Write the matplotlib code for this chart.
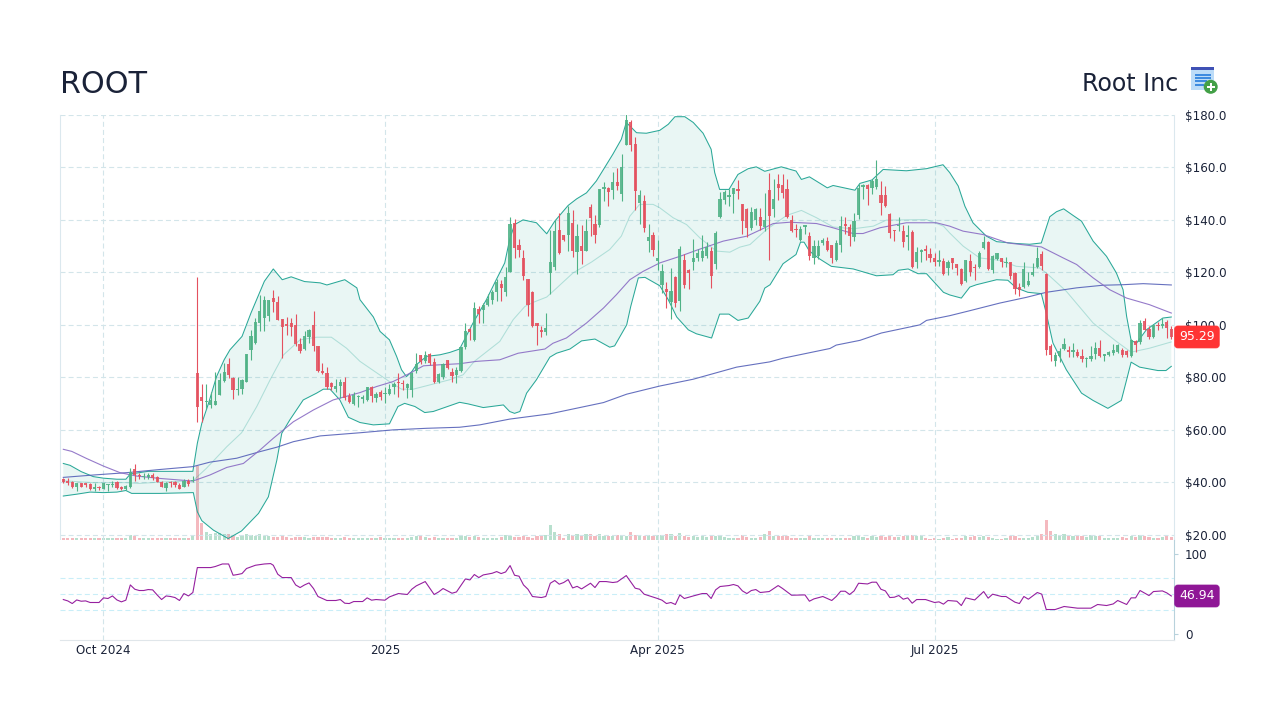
import matplotlib
matplotlib.use('Agg')
import matplotlib.pyplot as plt
from matplotlib.patches import Rectangle, Circle

# daily candles
opens = [
    41, 40.5, 39.9, 38, 39.5, 39.5, 39.3, 37.3, 38, 37.4,
    39, 39, 40, 38, 37.4, 38, 45, 42.8, 42.1, 41.8,
    42.7, 42, 40.2, 37.8, 40, 40, 39, 38.2, 40.5, 40.3,
    81.5, 72.3, 70.5, 69.4, 69.5, 73, 78.7, 85.1, 79.6, 75.1,
    75.4, 78.3, 90.4, 92.9, 100.6, 102.5, 103.1, 110.1, 108.7, 102.1,
    100.3, 100.6, 99.9, 92.6, 90.7, 95.1, 99.9, 91.9, 82.4, 81.5,
    77.7, 75.6, 76.7, 78.2, 72.9, 69.8, 72.3, 71.8, 71.1, 76.4,
    72.2, 74.4, 73.5, 73.6, 76.4, 78.2, 77.9, 75.8, 75.1, 82.5,
    88.4, 86, 88.9, 85.7, 78.3, 80, 86.5, 81.8, 80.9, 82.5,
    91.4, 98.3, 94, 105.9, 105.4, 107.6, 109.3, 112.3, 115.6, 112.3,
    119.9, 138.8, 130.5, 125.4, 117.4, 112.3, 100.6, 97.8, 97, 119.7,
    122, 136.2, 134.3, 134.3, 138.8, 127.6, 130.1, 128, 144.9, 138.5,
    137.8, 151.5, 151.9, 151.2, 154.5, 149.6, 168.3, 177, 168.7, 146.2,
    147.2, 131.8, 134.2, 124.4, 115, 113.6, 108.5, 118, 108.9, 124.8,
    120.9, 123.8, 125.4, 125.4, 126, 128.2, 122.9, 140.9, 147.4, 148.6,
    149.6, 151.5, 146.1, 143.9, 136.9, 140, 140.9, 137.1, 151.1, 144.1,
    153.4, 153, 151.5, 140, 136.4, 132.2, 137.2, 133.9, 125.4, 126,
    130.9, 132, 130.5, 124.8, 130.5, 138.5, 137.2, 133.4, 141.9, 152.4,
    153, 152.1, 152.5, 149.2, 149.2, 142.3, 136, 137.5, 135.8, 133.3,
    135.2, 123.8, 127.6, 128.8, 127, 125.2, 123.8, 124.4, 121.6, 125.2,
    122.9, 121.3, 116.5, 124.4, 122, 122, 129.1, 131.6, 120.9, 125,
    125.3, 123.5, 123.9, 119.8, 114.3, 114.3, 115.1, 119, 122, 126.9,
    119.4, 91.7, 86.3, 88.1, 90.7, 90.2, 89.5, 89.5, 88.1, 86.8,
    86.8, 88.8, 91.2, 88.1, 88.4, 89.1, 89.6, 90.2, 89.8, 88.1,
    93.6, 93.3, 101.2, 98.4, 95.1, 99.9, 99.3, 101.1, 98.4,
]
closes = [
    40, 39.6, 38, 39.5, 38.2, 39, 37.5, 38.2, 37.7, 39.5,
    39.2, 39.3, 37.8, 37.5, 38.6, 44, 42.6, 42.3, 42.3, 42.8,
    41.5, 40.2, 38.2, 39.8, 39.8, 38.8, 37.5, 40.3, 39.2, 40.8,
    68.5, 71, 71, 71.3, 71, 78.9, 82.1, 80.9, 75.1, 75.4,
    79, 88.9, 95.8, 101.1, 105, 109.5, 109.5, 108.5, 101.9, 98.9,
    99.6, 98.9, 92.7, 90, 95.5, 97.8, 91.7, 82.5, 81.5, 76.1,
    76.1, 76.7, 78.2, 72, 70.7, 73.2, 72.9, 72.6, 76.2, 72.9,
    73.6, 72.6, 73.6, 75.4, 77.4, 77.9, 77.4, 77.3, 81.5, 85,
    85.6, 88.5, 85.3, 78.3, 81.2, 85, 83.3, 80.5, 82.8, 91.3,
    97.7, 97.3, 106.3, 103.9, 107.6, 109.9, 112.3, 116.4, 113.9, 118.2,
    138.5, 129.1, 128.3, 118.4, 107.6, 99.6, 99.3, 97.2, 98.7, 123.9,
    135.6, 127.3, 132.1, 142.6, 128, 133.9, 128, 135.8, 140.7, 134.3,
    151.7, 152.5, 150.5, 154.5, 152.8, 160.2, 178, 168.3, 150.9, 149.2,
    136.7, 133.5, 128.6, 125.2, 120.6, 112.3, 112.9, 108.2, 128.8, 115.2,
    119.7, 125.4, 127.3, 128.2, 129.6, 118.4, 134.9, 147.7, 150.5, 149.2,
    151.9, 150.9, 139.4, 136.9, 143, 143.9, 137.7, 140, 141.3, 147.7,
    151.9, 150.2, 141.1, 135.6, 136, 136.6, 137.9, 126, 130.1, 129.9,
    132.4, 128.3, 125.2, 131.1, 137.5, 137.5, 133.7, 139.4, 151.9, 153,
    151.7, 154.7, 155.6, 146.4, 145.1, 134.9, 135.6, 138.1, 131.4, 134.3,
    121.9, 127.7, 128.3, 128, 125.4, 123.8, 124.8, 119.4, 123.9, 123.5,
    121.6, 115.6, 124.5, 119.9, 121.7, 127.1, 131.6, 121.2, 126.3, 127.1,
    123.8, 123.8, 118.7, 113.6, 113.3, 121.2, 116.6, 120, 125.4, 122.5,
    90.2, 88.3, 88.5, 90, 92.6, 89.5, 90.3, 87.9, 86.8, 87.1,
    88, 91.2, 87.9, 88.8, 89.4, 90.4, 92.2, 88.5, 88.6, 94,
    92.3, 100.8, 98, 95.1, 99.7, 99.3, 100.3, 98.7, 95.29,
]
highs = [
    41.6, 41.4, 40.5, 39.8, 39.8, 39.8, 39.8, 39.8, 38.5, 39.8,
    39.3, 40.5, 40.5, 38.5, 39, 45.2, 47, 43.5, 43.3, 43.3,
    43.3, 42.3, 40.5, 40, 40.3, 40.5, 39.8, 41, 41, 42.3,
    118, 77.3, 77.3, 74.3, 81.8, 81.5, 85.3, 87.2, 80.2, 80,
    79.2, 88.9, 98, 102.5, 111.4, 111, 109.5, 113, 111, 102.1,
    102.9, 102.5, 104.2, 94.9, 97.4, 98.3, 105.2, 91.9, 85.3, 83.8,
    78.3, 79.2, 79.2, 79.9, 73.9, 74.5, 73.2, 73.2, 76.3, 76.7,
    74.5, 74.9, 76.4, 77.4, 78.3, 81.5, 79, 77.7, 82.1, 89.1,
    88.5, 89.8, 89.1, 87.2, 81.5, 85.3, 86.6, 83.4, 84, 91.3,
    100.8, 98.7, 108.6, 107.2, 108.2, 111.8, 113.3, 117.4, 116.9, 122,
    141, 140.3, 132.7, 128.6, 117.4, 112.7, 100.6, 99.6, 104.4, 136.2,
    139.8, 142.6, 134.3, 145.1, 143.6, 138.5, 138.1, 140.4, 146, 141.6,
    151.7, 154.3, 152.5, 158.1, 159.6, 165.1, 180.3, 178, 171.6, 151.2,
    149.2, 138.3, 135.3, 132.4, 122.9, 116.1, 121.6, 118.7, 130.1, 127,
    121.2, 132.7, 128.8, 134.3, 131.4, 129.6, 135.6, 150.5, 151.1, 151.5,
    152.1, 154.9, 146.1, 144.5, 144.9, 144.4, 144.4, 150.2, 157.9, 155.3,
    157.5, 157.5, 155.3, 141.6, 138.5, 137.5, 138.1, 135.2, 132.1, 132.1,
    133, 133.4, 130.5, 132.1, 141.3, 141, 138.5, 142.6, 153.4, 153.4,
    153.4, 155.3, 162.7, 154.7, 152.8, 142.6, 136.2, 141, 138.1, 138.1,
    136, 129.6, 128.8, 130.5, 129.2, 127.3, 128.3, 125.4, 124.5, 125.4,
    123.2, 121.6, 124.8, 126.9, 123.2, 128, 133.9, 131.9, 126.6, 127.1,
    125.5, 125.8, 124, 119.9, 115.9, 123.7, 119.9, 123.5, 129.6, 128,
    119.7, 92.7, 89.4, 90.9, 94.9, 91.7, 92.9, 90.7, 90.7, 87.6,
    91.7, 93.2, 94.2, 88.8, 89.8, 92.6, 92.6, 91, 90.4, 94.5,
    94.2, 101.6, 102.5, 99.3, 99.9, 100.9, 102.4, 101.6, 99.3,
]
lows = [
    39.5, 39, 37.7, 36.7, 38, 38, 37, 36.8, 37, 37.2,
    36.7, 38.2, 37.5, 37, 37, 37.6, 40.5, 41.3, 41, 41.3,
    40.8, 40, 38, 36.7, 38, 38.2, 37.2, 38, 38.5, 40,
    63, 63, 68, 68.4, 69.4, 73, 78.3, 79.6, 71.6, 73.1,
    73.6, 78.3, 86.6, 92.7, 97.4, 97.4, 101.2, 104.7, 101.6, 87.2,
    96.1, 95.5, 91.9, 89.1, 90.2, 92.9, 89.8, 82.1, 81.2, 75.4,
    74.9, 74.5, 72, 71.3, 70, 69.4, 68.5, 70.3, 71, 70.7,
    70.4, 71.1, 70.3, 73.1, 73.6, 72.3, 74.9, 72, 72.3, 81.5,
    85, 85.3, 84.7, 77.9, 77.7, 79.2, 83, 78.3, 77.7, 82.1,
    90.7, 94.2, 93.6, 100.8, 100.6, 106.9, 108, 108.9, 108.9, 110.8,
    119.9, 125.4, 125.8, 117.1, 103.4, 99.1, 92.2, 95.2, 96.1, 111.8,
    120.9, 127, 131.8, 128, 125.8, 119.1, 122.9, 128, 133.9, 131.1,
    137.2, 147.2, 145.1, 147.7, 151.2, 147.2, 168.3, 166.1, 143.5, 138.5,
    135.2, 127.6, 126, 120.7, 112.1, 106.3, 102.1, 106.7, 105, 113.9,
    113.6, 120.7, 124.1, 124.1, 125.4, 114, 121.2, 140.7, 145.8, 145.1,
    142.6, 147.9, 134.6, 133.4, 136, 138.1, 136, 135.6, 124.8, 141.1,
    147.4, 148.3, 140.7, 135.2, 133.4, 131.8, 134.7, 124.5, 123.1, 125,
    130.5, 128, 123.5, 124.1, 127.6, 134.7, 130.1, 131.8, 140.3, 147.9,
    145.4, 149.8, 151.5, 141.6, 144.9, 133, 131.8, 135.6, 129.6, 128.6,
    121.6, 121.6, 123.8, 124.8, 123.8, 122.2, 122.2, 118.8, 118.8, 121.2,
    119, 115.1, 116.1, 118.6, 116.9, 121.6, 128.8, 120.7, 119.6, 124.5,
    122, 122, 117.4, 111.8, 111, 113.9, 114.6, 118.4, 121.6, 120.7,
    88.5, 86.3, 84.4, 85.7, 90.2, 87.6, 87.6, 87.6, 85.7, 83.7,
    86.3, 86.8, 87.6, 86, 87.9, 88.5, 89.1, 87.5, 87.5, 87.6,
    89.5, 92.7, 97.8, 94.5, 94.9, 97.8, 98.7, 94.9, 94.7,
]
# relative volume, no scale shown on the chart
volumes = [
    6, 6, 5, 5, 5, 5, 5, 5, 5, 5,
    5, 5, 5, 5, 6, 14, 12, 6, 5, 5,
    5, 5, 5, 5, 5, 5, 5, 5, 5, 12,
    220, 50, 24, 16, 20, 20, 18, 16, 12, 8,
    14, 16, 14, 12, 16, 12, 10, 8, 8, 12,
    8, 6, 7, 7, 7, 6, 8, 7, 7, 7,
    6, 6, 6, 7, 4, 6, 6, 5, 5, 5,
    6, 7, 6, 5, 6, 6, 5, 6, 7, 10,
    11, 8, 6, 7, 5, 4, 5, 6, 6, 10,
    10, 8, 11, 8, 6, 5, 5, 6, 7, 13,
    10, 8, 8, 10, 8, 5, 11, 10, 14, 44,
    22, 18, 6, 18, 14, 16, 14, 18, 16, 10,
    18, 12, 10, 10, 14, 14, 12, 22, 14, 12,
    12, 14, 12, 14, 14, 16, 16, 12, 20, 12,
    8, 10, 8, 10, 8, 12, 12, 12, 8, 4,
    5, 4, 14, 8, 6, 5, 7, 16, 26, 10,
    12, 12, 10, 6, 4, 6, 4, 14, 6, 4,
    4, 4, 5, 6, 6, 6, 6, 10, 14, 7,
    6, 10, 8, 10, 8, 10, 8, 8, 10, 12,
    14, 10, 14, 6, 3, 4, 2, 5, 7, 3,
    4, 6, 10, 7, 10, 7, 10, 7, 6, 2,
    3, 4, 10, 10, 5, 6, 6, 7, 12, 17,
    58, 25, 16, 14, 16, 10, 10, 10, 10, 8,
    14, 10, 10, 6, 4, 6, 6, 7, 6, 10,
    8, 14, 10, 8, 6, 6, 7, 10, 8,
]

# overlays as (candle index, value) vertices
upper_x = [0, 1.5, 4, 6.7, 9, 12, 14, 15, 19, 22, 29, 30, 31, 32.5, 34.3, 36, 37.3, 40, 42, 45, 47, 49, 51, 54, 57.5, 59, 63, 65.7,
           66.4, 69.4, 70.9, 73, 74.6, 75.7, 76.8, 78, 79, 81.3, 84.3, 86.5, 88.7, 91.7, 94.7, 96.9, 98.8, 99.9, 101, 102.9, 105.9, 108.2,
           110, 113, 114.9, 117.1, 119.3, 120.9, 123, 124.9, 126, 127.2, 128.3, 130.5, 133.5, 135.4, 136.9, 139.1, 141, 143.2, 145, 145.8,
           146.9, 149, 151, 153.3, 155.1, 157, 160.7, 164, 165.2, 167, 171, 172.3, 177.2, 178.3, 181, 183.5, 188.7, 193.2, 196.9,
           198.4, 200.3, 201.8, 203.6, 206.6, 208.9, 213.3, 216.3, 218.9, 220.8, 222.3, 223.9, 226, 227.9, 230.5, 233.5, 235.7, 237.2, 238,
           239, 240.2, 242.4, 246.1, 248]
upper_y = [47.1, 46.4, 44, 42.1, 41.5, 41.1, 41.1, 43.1, 44.1, 44.1, 44.1, 54.8, 62.4, 70, 80.2, 86.6, 90.4, 95.5, 104.4, 116.5, 121.2, 117.1, 118.2, 116.4, 115.9, 115.1, 117.1, 114,
           109.5, 102.9, 97.4, 94.2, 87.9, 82.8, 80.2, 82.1, 84.7, 87.9, 88.5, 89.4, 90.7, 100.6, 109.5, 117.1, 123.5, 132.4, 138.1, 139.9, 138.8, 134.6,
           139.4, 145.4, 147.9, 150.2, 154.7, 159.1, 164.9, 170.6, 177, 175, 173.1, 172.9, 174, 176.3, 179.2, 179.2, 177, 172.9, 166.8, 157.9,
           151.5, 151.5, 157.2, 159.4, 160.1, 158.4, 160.1, 158.5, 155.3, 156.3, 152.1, 153, 151.2, 153.8, 155.1, 159.1, 158.6, 159.4, 160.9,
           157.9, 152.8, 145.1, 138.8, 133.7, 131.6, 130.9, 130.6, 131.1, 141.1, 143, 144.1, 141.6, 139.4, 131.8, 126, 119.7, 113.3, 103.1,
           94, 92.9, 98, 102.5, 102.9]
lower_x = [0, 3, 6, 9, 12, 14, 15.3, 21.6, 29.1, 30, 31, 33.6, 36.9, 39.9, 43.7, 45.9, 47.8, 48.9, 50.7, 53.7, 56.7, 58.2, 59.7, 61.9, 63.8,
           66.4, 69.4, 73, 74.9, 76.4, 78.7, 80.9, 82.8, 88.7, 90.6, 94, 98.5, 99.9, 101, 102.2, 103.7, 105.9, 108.9, 110.4, 113.4, 116, 119,
           122.3, 123.4, 126.1, 127, 128.7, 130.2, 133.5, 135.4, 137.3, 139.9, 141.7, 145.1, 146.9, 149, 151, 153.3, 155.9, 157, 158.2, 161.1,
           164, 165, 165.8, 167, 169.3, 171.9, 176.8, 182, 185.7, 186.9, 189.1, 191.3, 193.2, 197,
           198.4, 201, 202.9, 204.4, 208.9, 211.4, 213.3, 215.9, 218.9, 220, 221.5, 224.5, 227.9, 230.5, 233.8, 236.8, 238, 239, 240.9, 245, 246.8, 248]
lower_y = [34.7, 35.4, 36.2, 36, 36.2, 36.8, 35.7, 35.7, 36, 28.7, 25.3, 21.7, 18.5, 21.4, 28.1, 34.4, 48.4, 58.6, 63.7, 71.3, 73.9, 75.4, 75.4, 71.3, 64.7,
           62.7, 61.8, 62.2, 68.8, 70, 68.8, 66.5, 66.9, 70.4, 69.8, 68.4, 69.4, 66.9, 66.2, 66.9, 73.9, 79, 87.6, 89.1, 90.7, 93.8, 94.5,
           91.4, 91.9, 99.9, 106.9, 117.8, 118, 114.8, 109.5, 102.9, 98, 96.5, 94.9, 104, 104, 101.6, 102.5, 108.9, 113.9, 115.2, 123.2,
           126.7, 131.4, 131.4, 128, 125, 122.2, 121.2, 118.6, 119, 120.7, 121.2, 119.4, 119.4, 112.3,
           111.3, 110.1, 114.3, 115.2, 117.1, 116.9, 114, 112.3, 111.8, 104.4, 93, 82.8, 73.9, 71.1, 68.1, 71.1, 79, 85.7, 83.8, 82.5, 82.5, 84.1]
mid_x = [0, 6.7, 14, 17, 21.6, 29, 32, 36.6, 39.9, 43.3, 46.3, 49.3, 53, 56.7, 60, 63.4, 66.4, 69.4, 73, 75.7, 78.3, 81.3, 86.5, 89.5, 92,
         97.7, 100.7, 103.3, 105.2, 108.2, 110.4, 114.1, 118.2, 122.3, 124.9, 126.8, 129, 132, 133.5, 136.5, 139.5, 142.5, 146.2, 149.2, 151.4,
         153.7, 157.4, 161.9, 165.2, 168.6, 172.3, 176.8, 181.3, 184.2, 193.2, 197, 198.4, 201.4, 205.1, 209.6, 213.3, 218.5, 220, 224.5, 230.5,
         235.7, 239, 243.1, 248]
mid_y = [40.5, 39.8, 39.8, 39.5, 40, 40.5, 45.2, 53.5, 58.8, 68.8, 79, 88.5, 94.2, 95.2, 95.2, 91, 86, 82.5, 78.3, 75.4, 75.4, 76.7, 79, 80.9, 86,
         93.6, 101.9, 106.9, 108.5, 110.5, 113.9, 119.7, 123.8, 128.6, 133.7, 141.3, 145.8, 145.8, 144.5, 140.7, 138.1, 133, 128, 127.6, 129.5,
         130.5, 136.2, 141.6, 143.5, 140.7, 137.2, 136.5, 137.5, 139.8, 140, 137.5, 134.9, 129.9, 125.4, 124.5, 122.2, 121.6, 119.7, 112.7, 100.6,
         93.6, 89.5, 91, 93.4]
ma50_x = [0, 1.9, 5.2, 9, 12.7, 16.4, 21.6, 29, 32.8, 36.6, 40.3, 44, 47, 51.5, 56, 60.4, 66.4, 70.1, 73.8, 77.6, 80.6, 84.3, 88.7, 92.5,
          97.7, 101.8, 107.8, 109.6, 112.6, 117.1, 120.9, 123.8, 126.8, 129.8, 133.5, 138, 141.7, 147.7, 153, 155.9, 158.9, 162.6, 168.6, 171.6,
          176.8, 179, 182.8, 188.7, 195.4, 198.4, 201.4, 205.9, 211.4, 218.9, 223.8, 226.8, 230.5, 234.2, 238, 243.1, 248]
ma50_y = [52.5, 51.7, 49, 46.1, 43.6, 42.3, 41.4, 40.4, 42.7, 45.6, 47.1, 52.2, 56.7, 63, 67.5, 71.3, 74.1, 76.4, 78.3, 81.5, 84.3, 84.7, 85.1, 86,
          86.6, 89.1, 90.7, 92.9, 94.9, 100.6, 106.3, 111.4, 117.1, 120.3, 123.5, 126, 128.3, 131.8, 133.7, 136, 138.5, 139, 138.5, 137.2,
          134.7, 134.7, 136.9, 138.8, 138.8, 137.5, 135.6, 134.3, 131.1, 129.6, 125.4, 122.9, 117.8, 113.3, 110.1, 107.6, 104.4]
ma200_x = [0, 6.7, 14.2, 21.6, 29, 32.8, 38.8, 44, 47.8, 51.5, 57.5, 66.4, 73.8, 81.3, 88.7, 93.2, 99.9, 108.9, 120.9, 126.1, 133.5, 141,
           150.7, 158.1, 161.1, 171.6, 173, 178.3, 183.1, 191.7, 193.2, 198.4, 202.9, 209.6, 215.6, 220, 226.8, 232.7, 237.2, 241.7, 248]
ma200_y = [41.8, 42.7, 43.6, 44.8, 45.9, 47.6, 49.1, 51.6, 53.3, 55.4, 57.6, 58.8, 59.9, 60.5, 60.9, 61.8, 64, 66, 70.3, 73.5, 76.6, 79.2,
           83.8, 85.8, 87.2, 90.9, 92.2, 94, 96.8, 99.9, 101.6, 103.4, 105.3, 108.2, 110.4, 112.3, 114, 115, 115.2, 115.6, 115.1]
rsi_x = [0, 1, 2, 3, 4, 5, 6, 8, 9, 10, 11, 12, 13, 14, 15, 16, 17, 18, 19, 20, 21, 22, 23, 24, 25, 26, 27, 28, 29, 30, 33, 34, 35.6, 37,
         38, 39, 40, 41, 43, 45, 46.4, 47, 48, 49, 51, 52, 53, 54, 55, 56, 57, 59, 61, 62, 63, 64, 65, 67, 68, 69, 70, 72, 73, 75, 77, 78,
         79, 81, 83, 84, 85, 87, 88, 90, 91, 92, 93, 94, 96, 97, 98, 99, 100, 101, 102, 103, 104, 105, 107, 108, 109, 110, 111, 112, 113,
         114, 115, 116, 118, 119, 120, 121.5, 123, 124, 126, 128, 129, 130, 133, 134, 135, 136, 137, 138, 139, 141, 143, 144, 145, 146, 147,
         149, 150, 151, 152, 153, 154, 155, 156, 158, 160, 161, 163, 166, 167, 168, 170, 172, 173, 174, 175, 176, 177, 178, 180, 181, 182,
         183, 184, 185, 186, 187, 188, 189, 190, 191, 193, 195, 196, 197, 198, 200, 201, 202, 204, 206, 207, 208, 210, 211, 213, 214, 215,
         216, 218, 219, 220, 222, 224, 227, 230, 231.5, 233.5, 235, 236, 238, 239, 240, 241, 243, 244, 246, 247, 248]
rsi_y = [42.5, 40.8, 37.5, 42, 40.4, 40.8, 38.8, 38.8, 44.6, 43.8, 47, 42, 39.6, 41.7, 60.8, 55.4, 53.8, 53.8, 55, 54.6, 48.3, 42.5, 47, 46.3, 45, 41.3, 50, 47, 51.3, 82.5, 82.5, 83.8, 87, 87,
         72.9, 73.8, 75, 81.3, 85.4, 87, 87.5, 85.4, 74.2, 70, 70, 60.8, 57.5, 60.8, 63.3, 56.3, 46.3, 41.3, 41.3, 42.5, 37.9, 37.5, 40, 40, 44.6, 41.7, 42.5, 41.7, 45.8, 50, 48.8, 55.4,
         59.6, 65, 48.8, 52, 56.3, 50.4, 52, 68.3, 67, 73.8, 70, 73.3, 75.4, 77.5, 75, 77, 85, 72.9, 71.7, 60.8, 55.4, 46.3, 45, 46.3, 62.9, 66.3, 61.7, 63.8, 67.5,
         57, 59, 55.8, 62.9, 57.5, 65, 65, 63.8, 64.6, 72.5, 56.7, 55.4, 49.2, 43.8, 41.7, 37.5, 38.8, 36.3, 48.3, 43.8, 47, 50, 50, 43.8, 54.6, 58.8,
         60, 61.3, 59.6, 53.3, 50, 53.8, 55, 51.3, 52.5, 60, 56.3, 47.9, 48.3, 40.4, 43.3, 46.3, 41.3, 46.3, 52.9, 52.9, 48.8, 53.3, 62.9, 62, 64.2, 64.2,
         55.4, 53.3, 45, 45.4, 47.5, 42.9, 44.6, 37.9, 42.5, 42.5, 38.8, 39.6, 36.7, 41.3, 40.4, 35, 44.6, 42, 52.5, 44.2, 49.2, 46.3, 46.3, 39.2, 37.5, 46.3,
         42.9, 51.3, 49.2, 30, 30, 33.8, 31.7, 31.7, 36.3, 35, 37, 41.3, 36.3, 44.6, 44.6, 53.8, 47.5, 52.5, 53.3, 50.8, 46.94]

price_ticks = [180, 160, 140, 120, 100, 80, 60, 40, 20]
price_labels = ['$180.0', '$160.0', '$140.0', '$120.0', '$100.0', '$80.00', '$60.00', '$40.00', '$20.00']
date_ticks = [8.9, 72, 133, 195]
date_labels = ['Oct 2024', '2025', 'Apr 2025', 'Jul 2025']
rsi_ticks = [100, 0]
rsi_levels = [70, 50, 30]

UP = '#4fb286'
DOWN = '#e4515f'
BAND = '#2aa898'
TEXT = '#1a2238'
GRID = '#d3e5ea'
DASH = (4.5, 2.8)
W, H = 1280, 720


def px_axes(left, top, right, bottom):
    return fig.add_axes([left / W, 1 - bottom / H, (right - left) / W, (bottom - top) / H])


fig = plt.figure(figsize=(12.8, 7.2), dpi=100, facecolor='white')
xlim = (-0.74, 248.6)
n = len(closes)
xs = list(range(n))
colors = [UP if c >= o else DOWN for o, c in zip(opens, closes)]

# volume sits under the price panel
vol_ax = px_axes(60, 114.6, 1174, 539.6)
vol_ax.bar(xs, volumes, width=0.72, color=colors, alpha=0.4, linewidth=0)
vol_ax.set_xlim(xlim)
vol_ax.set_ylim(0, 1275)
vol_ax.axis('off')

ax = px_axes(60, 114.6, 1174, 539.6)
ax.patch.set_visible(False)
ax.set_xlim(xlim)
ax.set_ylim(18.1, 180)
for p in price_ticks:
    ax.axhline(p, color=GRID, lw=0.8, dashes=DASH, zorder=1)
for d in date_ticks:
    ax.axvline(d, color=GRID, lw=0.8, dashes=DASH, zorder=1)

# band fill needs both edges on one x grid, so close the polygon by hand
ax.fill(upper_x + lower_x[::-1], upper_y + lower_y[::-1], color=BAND, alpha=0.1, lw=0, zorder=2)
ax.plot(upper_x, upper_y, color=BAND, lw=0.75, zorder=3)
ax.plot(lower_x, lower_y, color=BAND, lw=0.75, zorder=3)
ax.plot(mid_x, mid_y, color=BAND, lw=0.75, alpha=0.3, zorder=3)
ax.plot(ma200_x, ma200_y, color='#5561b8', lw=0.8, alpha=0.9, zorder=3)
ax.plot(ma50_x, ma50_y, color='#8a6cc4', lw=0.8, alpha=0.9, zorder=3)

ax.vlines(xs, lows, highs, colors=colors, lw=0.8, zorder=4)
bottoms = [min(o, c) for o, c in zip(opens, closes)]
heights = [max(abs(c - o), 0.3) for o, c in zip(opens, closes)]
ax.bar(xs, heights, bottom=bottoms, width=0.72, color=colors, alpha=0.88, linewidth=0, zorder=5)

ax.yaxis.tick_right()
ax.set_yticks(price_ticks, price_labels)
ax.set_xticks([])
ax.tick_params(axis='y', length=0, pad=8, labelsize=8.6, labelcolor=TEXT)
for name in ['top', 'bottom']:
    ax.spines[name].set_visible(False)
ax.spines['left'].set_color('#dbe8ee')
ax.spines['right'].set_color('#dbe8ee')
ax.spines['left'].set_linewidth(0.8)
ax.spines['right'].set_linewidth(0.8)

ax.annotate(f'{closes[-1]:.2f}', xy=(1.0206, closes[-1]), xycoords=('axes fraction', 'data'),
            ha='center', va='center', color='white', fontsize=9, annotation_clip=False, zorder=10,
            bbox=dict(boxstyle='round,pad=0.36,rounding_size=0.25', fc='#ff3434', ec='#ff3434', lw=0.5))

# RSI panel
rsi_ax = px_axes(60, 540, 1174, 639.5)
rsi_ax.set_xlim(xlim)
rsi_ax.set_ylim(-7.5, 117)
for lvl in rsi_levels:
    rsi_ax.axhline(lvl, color='#c9eef8', lw=0.8, dashes=DASH, zorder=1)
for d in date_ticks:
    rsi_ax.axvline(d, color=GRID, lw=0.8, dashes=DASH, zorder=1)
rsi_ax.plot(rsi_x, rsi_y, color='#96209f', lw=0.8, zorder=3)
rsi_ax.yaxis.tick_right()
rsi_ax.set_yticks(rsi_ticks)
rsi_ax.set_xticks(date_ticks, date_labels)
rsi_ax.tick_params(axis='y', length=3, width=0.8, color='#b8d2dc', pad=5, labelsize=8.6, labelcolor=TEXT)
rsi_ax.tick_params(axis='x', length=0, pad=3, labelsize=8.6, labelcolor=TEXT)
rsi_ax.spines['top'].set_visible(False)
rsi_ax.spines['left'].set_visible(False)
rsi_ax.spines['bottom'].set_color('#e0e6ea')
rsi_ax.spines['right'].set_color('#b8d2dc')
rsi_ax.spines['bottom'].set_linewidth(0.8)
rsi_ax.spines['right'].set_linewidth(0.8)
rsi_ax.annotate(f'{rsi_y[-1]:.2f}', xy=(1.0206, rsi_y[-1]), xycoords=('axes fraction', 'data'),
                ha='center', va='center', color='white', fontsize=9, annotation_clip=False, zorder=10,
                bbox=dict(boxstyle='round,pad=0.36,rounding_size=0.25', fc='#8f1796', ec='#8f1796', lw=0.5))

# header text and the watchlist icon, in pixel coordinates
top = fig.add_axes([0, 0, 1, 1], zorder=20)
top.set_xlim(0, W)
top.set_ylim(H, 0)
top.axis('off')
top.text(60, 81.5, 'ROOT', fontsize=21.7, color=TEXT, ha='left', va='center_baseline')
top.text(1178, 81.5, 'Root Inc', fontsize=17.1, color=TEXT, ha='right', va='center_baseline')
top.add_patch(Rectangle((1190.5, 67), 23, 23, fc='#bcdcf8', ec='none'))
top.add_patch(Rectangle((1190.5, 67), 23, 3.4, fc='#3f51b5', ec='none'))
for row, length in zip(range(4), [16, 16, 12, 9]):
    top.add_patch(Rectangle((1195, 73.5 + row * 3.4), length, 2, fc='#3d8be0', ec='none'))
top.add_patch(Circle((1210.7, 86.8), 7, fc='#43a047', ec='none'))
top.add_patch(Rectangle((1206.5, 85.6), 8.4, 2.4, fc='white', ec='none'))
top.add_patch(Rectangle((1209.5, 82.6), 2.4, 8.4, fc='white', ec='none'))

fig.savefig('out.png', dpi=100)
